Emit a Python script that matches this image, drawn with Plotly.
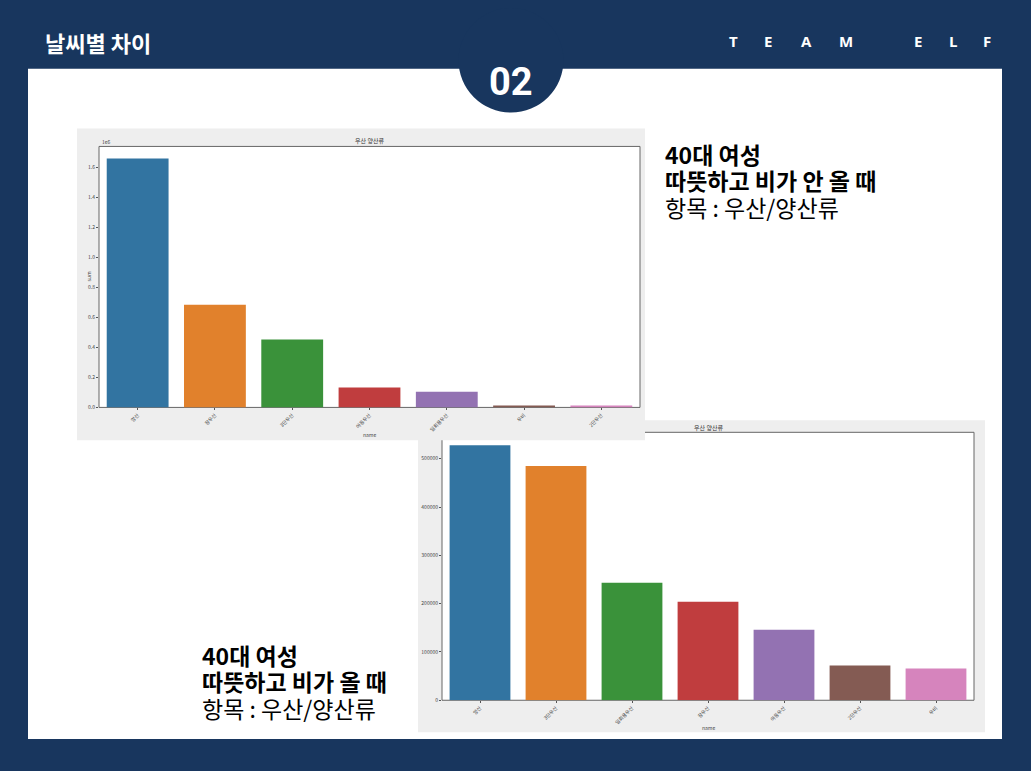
import plotly.graph_objects as go

W, H = 1031, 771

# ---- data ----
top_names = ["양산", "장우산", "3단우산", "아동우산", "일회용우산", "우비", "2단우산"]
top_sum = [1660000, 684000, 452000, 133000, 104000, 13000, 7000]
top_ticks = [0, 200000, 400000, 600000, 800000, 1000000, 1200000, 1400000, 1600000]
top_ticktext = ["0.0", "0.2", "0.4", "0.6", "0.8", "1.0", "1.2", "1.4", "1.6"]

bot_names = ["양산", "3단우산", "일회용우산", "장우산", "아동우산", "2단우산", "우비"]
bot_sum = [528000, 485000, 243000, 204000, 146000, 72000, 66000]
bot_ticks = [0, 100000, 200000, 300000, 400000, 500000]
bot_ticktext = ["0", "100000", "200000", "300000", "400000", "500000"]

palette = ["#3274a1", "#e1812c", "#3a923a", "#c03d3e", "#9372b2", "#845b53", "#d684bd"]

NAVY = "#18365e"
KR = "Noto Sans CJK KR"


def px(x):
    return x / W


def py(y):
    return 1 - y / H


fig = go.Figure()
fig.add_trace(go.Bar(x=top_names, y=top_sum, marker_color=palette, width=0.8,
                     marker_line_width=0, xaxis="x", yaxis="y", showlegend=False))
fig.add_trace(go.Bar(x=bot_names, y=bot_sum, marker_color=palette, width=0.8,
                     marker_line_width=0, xaxis="x2", yaxis="y2", showlegend=False))

# plot area boxes (pixels)
TOP = dict(x0=99, x1=640, y0=147, y1=409)
BOT = dict(x0=442, x1=974, y0=434, y1=703)

tickfont = dict(family=KR, size=5, color="#444")
axis_common = dict(showgrid=False, zeroline=False, showline=False, ticks="outside",
                   ticklen=2, tickcolor="#555", tickfont=tickfont)

fig.update_layout(
    width=W, height=H, margin=dict(l=0, r=0, t=0, b=0),
    paper_bgcolor=NAVY, plot_bgcolor="rgba(0,0,0,0)",
    bargap=0.2,
    xaxis=dict(domain=[px(TOP["x0"]), px(TOP["x1"])], anchor="y", range=[-0.5, 6.5],
               type="category", tickangle=-45, **axis_common),
    yaxis=dict(domain=[py(TOP["y1"]), py(TOP["y0"])], anchor="x", range=[0, 1.740e6],
               tickvals=top_ticks, ticktext=top_ticktext, **axis_common),
    xaxis2=dict(domain=[px(BOT["x0"]), px(BOT["x1"])], anchor="y2", range=[-0.5, 6.5],
                type="category", tickangle=-45, **axis_common),
    yaxis2=dict(domain=[py(BOT["y1"]), py(BOT["y0"])], anchor="x2", range=[0, 5.546e5],
                tickvals=bot_ticks, ticktext=bot_ticktext, **axis_common),
)

shapes = []
# white content area
shapes.append(dict(type="rect", xref="paper", yref="paper", x0=px(28), x1=px(1002),
                   y0=py(742), y1=py(69), fillcolor="white", line_width=0, layer="below"))
# circle badge
shapes.append(dict(type="circle", xref="paper", yref="paper", x0=px(458.5), x1=px(563.5),
                   y0=py(113), y1=py(8), fillcolor=NAVY, line_width=0, layer="below"))
# bottom chart figure bg and box
shapes.append(dict(type="rect", xref="paper", yref="paper", x0=px(418), x1=px(985),
                   y0=py(735), y1=py(422), fillcolor="#eeeeee", line_width=0, layer="below"))
shapes.append(dict(type="rect", xref="paper", yref="paper", x0=px(BOT["x0"]), x1=px(BOT["x1"]),
                   y0=py(BOT["y1"]), y1=py(BOT["y0"]), fillcolor="white",
                   line=dict(color="#666", width=1), layer="below"))
# top chart figure bg and box (drawn over the bottom one)
shapes.append(dict(type="rect", xref="paper", yref="paper", x0=px(77), x1=px(645),
                   y0=py(442), y1=py(129), fillcolor="#eeeeee", line_width=0, layer="below"))
shapes.append(dict(type="rect", xref="paper", yref="paper", x0=px(TOP["x0"]), x1=px(TOP["x1"]),
                   y0=py(TOP["y1"]), y1=py(TOP["y0"]), fillcolor="white",
                   line=dict(color="#666", width=1), layer="below"))
fig.update_layout(shapes=shapes)

ann = []


def text(x, y, s, size, color="black", bold=False, family=KR, xanchor="left", yanchor="middle"):
    ann.append(dict(x=px(x), y=py(y), xref="paper", yref="paper", text=(f"<b>{s}</b>" if bold else s),
                    showarrow=False, xanchor=xanchor, yanchor=yanchor, align="left",
                    font=dict(family=family, size=size, color=color)))


# header
text(43, 42, "날씨별 차이", 22, "white", bold=True)
for ch, x in zip(["T", "E", "A", "M", "E", "L", "F"], [733, 768, 806, 846, 918, 953, 987]):
    text(x, 41, ch, 15, "white", bold=True, family="Open Sans", xanchor="center")
text(511, 82, "02", 38, "white", bold=True, family="Roboto", xanchor="center")

# chart labels
text((TOP["x0"] + TOP["x1"]) / 2, 141, "우산 양산류", 6, "#333", xanchor="center")
text(100, 142, "1e6", 5, "#444")
ann.append(dict(x=px(83), y=py(278), xref="paper", yref="paper", text="sum", showarrow=False,
                textangle=-90, font=dict(family=KR, size=5, color="#444")))
text((TOP["x0"] + TOP["x1"]) / 2, 436, "name", 5, "#444", xanchor="center")

text((BOT["x0"] + BOT["x1"]) / 2, 429, "우산 양산류", 6, "#333", xanchor="center")
text((BOT["x0"] + BOT["x1"]) / 2, 730, "name", 5, "#444", xanchor="center")

# descriptions
text(663, 155, "40대 여성", 23, bold=True)
text(663, 181, "따뜻하고 비가 안 올 때", 23, bold=True)
text(663, 208, "항목 : 우산/양산류", 23)

text(200, 658, "40대 여성", 23, bold=True)
text(200, 684, "따뜻하고 비가 올 때", 23, bold=True)
text(200, 711, "항목 : 우산/양산류", 23)

fig.update_layout(annotations=ann)
fig.write_html("out.html", config={"displayModeBar": False},
               post_script="document.body.style.margin='0';document.body.style.overflow='hidden';")
